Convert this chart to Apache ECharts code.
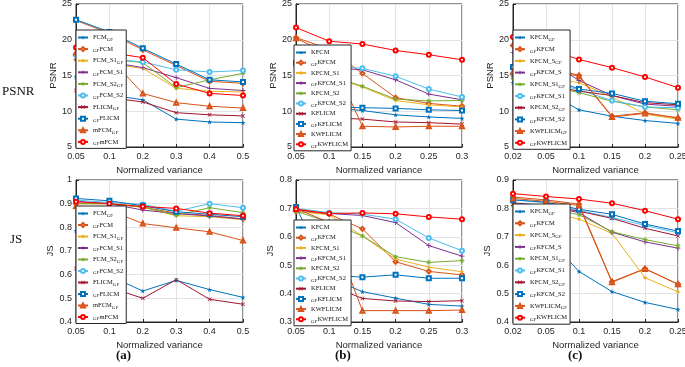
<!DOCTYPE html>
<html lang="en">
<head>
<meta charset="UTF-8">
<title>PSNR / JS vs normalized variance</title>
<script src="https://cdn.jsdelivr.net/npm/echarts@6/dist/echarts.min.js"></script>
</head>
<body style="margin:0; background:#fff">
<div id="main" style="width:685px; height:367px"></div>
<script>
// x categories
var xA = ['0.05', '0.1', '0.2', '0.3', '0.4', '0.5'];
var xB = ['0.05', '0.1', '0.15', '0.2', '0.25', '0.3'];
var xC = ['0.02', '0.05', '0.1', '0.15', '0.2', '0.25'];

// series names (GF_ prefix = subscript before, _GF suffix = subscript after)
var namesA = ['FCM_GF', 'GF_FCM', 'FCM_S1_GF', 'GF_FCM_S1', 'FCM_S2_GF', 'GF_FCM_S2', 'FLICM_GF', 'GF_FLICM', 'mFCM_GF', 'GF_mFCM'];
var namesB = ['KFCM', 'GF_KFCM', 'KFCM_S1', 'GF_KFCM_S1', 'KFCM_S2', 'GF_KFCM_S2', 'KFLICM', 'GF_KFLICM', 'KWFLICM', 'GF_KWFLICM'];
var namesC = ['KFCM_GF', 'GF_KFCM', 'KFCM_S_GF', 'GF_KFCM_S', 'KFCM_S1_GF', 'GF_KFCM_S1', 'KFCM_S2_GF', 'GF_KFCM_S2', 'KWFLICM_GF', 'GF_KWFLICM'];

// PSNR values, one row per series
var psnrA = [
    [14.8, 12.3, 11.6, 8.9, 8.5, 8.4],
    [22.7, 20.9, 18.6, 16.4, 14.2, 13.9],
    [17.0, 16.6, 16.0, 13.2, 12.8, 12.7],
    [17.2, 16.9, 16.1, 14.7, 13.2, 12.9],
    [17.6, 17.3, 16.8, 13.3, 14.4, 15.3],
    [17.9, 17.3, 16.9, 15.8, 15.5, 15.7],
    [12.9, 11.9, 11.3, 9.8, 9.5, 9.35],
    [22.8, 21.1, 18.8, 16.6, 14.4, 14.1],
    [18.2, 17.5, 12.5, 11.2, 10.7, 10.45],
    [18.9, 18.2, 17.5, 13.8, 12.5, 12.2]
];
var psnrB = [
    [16.4, 10.5, 10.1, 9.5, 9.2, 9.0],
    [20.3, 18.7, 15.3, 11.9, 11.1, 10.7],
    [15.8, 14.9, 13.4, 11.5, 10.9, 10.6],
    [16.3, 16.1, 15.8, 14.4, 12.4, 11.6],
    [16.0, 15.0, 13.5, 11.7, 11.45, 11.5],
    [16.6, 16.3, 16.0, 14.9, 13.1, 12.0],
    [11.8, 9.1, 8.9, 8.5, 8.4, 8.2],
    [16.8, 10.6, 10.5, 10.4, 10.2, 10.1],
    [20.2, 18.0, 7.9, 7.8, 7.9, 7.9],
    [21.7, 19.8, 19.4, 18.5, 17.9, 17.2]
];
var psnrC = [
    [14.0, 12.8, 10.2, 9.3, 8.7, 8.3],
    [19.2, 16.3, 15.0, 9.3, 9.8, 9.0],
    [15.8, 14.7, 14.0, 12.0, 9.6, 8.9],
    [18.2, 17.3, 14.3, 12.2, 11.0, 10.7],
    [14.6, 13.7, 12.6, 11.4, 10.6, 10.2],
    [15.2, 14.2, 13.0, 11.5, 10.6, 10.5],
    [15.0, 13.7, 12.8, 12.2, 11.2, 10.9],
    [16.2, 14.85, 13.1, 12.5, 11.4, 11.05],
    [15.5, 15.9, 14.9, 9.2, 9.7, 9.1],
    [20.4, 18.7, 17.25, 16.1, 14.8, 13.3]
];

// JS values
var jsA = [
    [0.785, 0.595, 0.531, 0.576, 0.537, 0.504],
    [0.90, 0.90, 0.885, 0.86, 0.85, 0.836],
    [0.90, 0.90, 0.885, 0.849, 0.845, 0.832],
    [0.91, 0.90, 0.873, 0.858, 0.848, 0.835],
    [0.90, 0.90, 0.886, 0.851, 0.883, 0.862],
    [0.915, 0.905, 0.897, 0.868, 0.90, 0.883],
    [0.626, 0.547, 0.50, 0.579, 0.496, 0.475],
    [0.922, 0.912, 0.891, 0.866, 0.855, 0.845],
    [0.89, 0.872, 0.816, 0.798, 0.781, 0.744],
    [0.908, 0.90, 0.888, 0.88, 0.86, 0.849]
];
var jsB = [
    [0.62, 0.455, 0.407, 0.384, 0.362, 0.356],
    [0.69, 0.68, 0.628, 0.512, 0.478, 0.466],
    [0.69, 0.677, 0.603, 0.522, 0.493, 0.477],
    [0.695, 0.682, 0.675, 0.65, 0.569, 0.532],
    [0.69, 0.652, 0.603, 0.53, 0.51, 0.516],
    [0.70, 0.685, 0.68, 0.662, 0.596, 0.551],
    [0.53, 0.43, 0.383, 0.374, 0.372, 0.375],
    [0.705, 0.465, 0.458, 0.466, 0.454, 0.454],
    [0.70, 0.65, 0.34, 0.34, 0.34, 0.342],
    [0.697, 0.682, 0.684, 0.681, 0.67, 0.662]
];
var jsC = [
    [0.83, 0.70, 0.578, 0.507, 0.469, 0.444],
    [0.84, 0.83, 0.815, 0.542, 0.588, 0.533],
    [0.81, 0.79, 0.762, 0.712, 0.556, 0.506],
    [0.82, 0.81, 0.785, 0.716, 0.682, 0.66],
    [0.81, 0.80, 0.778, 0.718, 0.69, 0.668],
    [0.83, 0.82, 0.793, 0.768, 0.74, 0.714],
    [0.815, 0.81, 0.79, 0.765, 0.73, 0.703],
    [0.83, 0.822, 0.797, 0.779, 0.745, 0.72],
    [0.835, 0.825, 0.81, 0.54, 0.587, 0.533],
    [0.852, 0.842, 0.833, 0.818, 0.792, 0.762]
];

var chart = echarts.init(document.getElementById('main'));

// matlab-ish line colours and markers
var colors = ['#0072BD', '#D95319', '#EDB120', '#7E2F8E', '#77AC30', '#4DBEEE', '#A2142F', '#0072BD', '#D95319', '#FF0000'];
var STAR = 'path://M0,-10L2.35,-3.24L9.51,-3.09L3.8,1.24L5.88,8.09L0,4L-5.88,8.09L-3.8,1.24L-9.51,-3.09L-2.35,-3.24Z';
var PLUS = 'path://M-1.8,-10H1.8V-1.8H10V1.8H1.8V10H-1.8V1.8H-10V-1.8H-1.8Z';
var CROSS = 'path://M-10,-7.5L-7.5,-10L0,-2.5L7.5,-10L10,-7.5L2.5,0L10,7.5L7.5,10L0,2.5L-7.5,10L-10,7.5L-2.5,0Z';
var AST = 'path://M-1.5,-10H1.5V-1.5H10V1.5H1.5V10H-1.5V1.5H-10V-1.5H-1.5Z M-8,-6L-6,-8L0,-2L6,-8L8,-6L2,0L8,6L6,8L0,2L-6,8L-8,6L-2,0Z';
var symbols = [STAR, 'emptyDiamond', 'diamond', PLUS, AST, 'emptyCircle', CROSS, 'emptyRect', 'emptyTriangle', 'emptyCircle'];
var sizes = [5, 4, 4, 5, 5, 4, 4, 4, 4, 4];

var panels = [
    { key: 'a', x: xA, names: namesA, psnr: psnrA, js: jsA, left: 76, width: 167, jsMin: 0.4, jsMax: 1,
      legLeft: 76, legTop: [30, 206], legGap: [2.6, 2.5] },
    { key: 'b', x: xB, names: namesB, psnr: psnrB, js: jsB, left: 296, width: 166, jsMin: 0.3, jsMax: 0.8,
      legLeft: 294, legTop: [45, 220], legGap: [1.2, 1.2] },
    { key: 'c', x: xC, names: namesC, psnr: psnrC, js: jsC, left: 513, width: 165, jsMin: 0.4, jsMax: 0.9,
      legLeft: 513, legTop: [30, 204], legGap: [2.7, 2.8] }
];

var rowTop = [4, 180];
var rowHeight = [143, 142];

function legendLabel(name) {
    var n = name.slice(2);
    if (n.indexOf('GF_') === 0) return '{sub|GF}' + n.slice(3);
    if (n.slice(-3) === '_GF') return n.slice(0, -3) + '{sub|GF}';
    return n;
}

var grids = [], xAxes = [], yAxes = [], series = [], legends = [];
var axisColor = '#262626';
var tickFont = { color: axisColor, fontSize: 9, fontFamily: 'Liberation Sans' };

for (var row = 0; row < 2; row++) {
    panels.forEach(function (p, pi) {
        var gi = grids.length;
        grids.push({
            left: p.left, width: p.width, top: rowTop[row], height: rowHeight[row],
            show: true, borderColor: axisColor, borderWidth: 1, backgroundColor: '#fff',
            outerBoundsMode: 'none'
        });
        xAxes.push({
            gridIndex: gi, type: 'category', data: p.x, boundaryGap: false,
            name: 'Normalized variance', nameLocation: 'middle', nameGap: 18,
            nameTextStyle: { color: axisColor, fontSize: 9.5, fontFamily: 'Liberation Sans' },
            axisLine: { lineStyle: { color: axisColor } },
            axisTick: { inside: true, length: 3, lineStyle: { color: axisColor } },
            axisLabel: Object.assign({ margin: 5 }, tickFont),
            splitLine: { show: true, lineStyle: { color: '#e3e3e3' } }
        });
        var isPsnr = row === 0;
        yAxes.push({
            gridIndex: gi, type: 'value',
            min: isPsnr ? 5 : p.jsMin, max: isPsnr ? 25 : p.jsMax, interval: isPsnr ? 5 : 0.1,
            name: isPsnr ? 'PSNR' : 'JS', nameLocation: 'middle', nameGap: 15,
            nameTextStyle: { color: axisColor, fontSize: 9.5, fontFamily: 'Liberation Sans' },
            axisLine: { show: true, lineStyle: { color: axisColor } },
            axisTick: { show: true, inside: true, length: 3, lineStyle: { color: axisColor } },
            axisLabel: Object.assign({ margin: 4 }, tickFont),
            splitLine: { show: true, lineStyle: { color: '#e3e3e3' } }
        });
        var vals = isPsnr ? p.psnr : p.js;
        var legendData = [];
        p.names.forEach(function (n, i) {
            var sname = p.key + ':' + n;
            legendData.push(sname);
            series.push({
                type: 'line', name: sname, xAxisIndex: gi, yAxisIndex: gi,
                data: vals[i],
                symbol: symbols[i], symbolSize: sizes[i],
                lineStyle: { width: 1, color: colors[i] },
                itemStyle: { color: colors[i], borderWidth: 1 },
                z: 2
            });
        });
        legends.push({
            data: legendData, orient: 'vertical',
            left: p.legLeft, top: p.legTop[row],
            itemWidth: 10, itemHeight: 5, itemGap: p.legGap[row],
            padding: [3, 3, 2, 1],
            backgroundColor: '#fff', borderColor: axisColor, borderWidth: 1,
            selectedMode: false,
            formatter: legendLabel,
            textStyle: {
                color: '#111', fontSize: 6.5, fontFamily: 'Liberation Serif', lineHeight: 9,
                rich: { sub: { fontSize: 5, fontFamily: 'Liberation Serif', color: '#111', padding: [4, 0, 0, 0] } }
            },
            z: 10
        });
    });
}

chart.setOption({
    animation: false,
    backgroundColor: '#fff',
    grid: grids,
    xAxis: xAxes,
    yAxis: yAxes,
    legend: legends,
    series: series,
    graphic: [
        { type: 'text', left: 2, top: 85, style: { text: 'PSNR', font: '13px "Liberation Serif"', fill: '#111' } },
        { type: 'text', left: 10, top: 233, style: { text: 'JS', font: '13px "Liberation Serif"', fill: '#111' } },
        { type: 'text', left: 116, top: 349, style: { text: '(a)', font: 'bold 13px "Liberation Serif"', fill: '#111' } },
        { type: 'text', left: 335, top: 349, style: { text: '(b)', font: 'bold 13px "Liberation Serif"', fill: '#111' } },
        { type: 'text', left: 568, top: 349, style: { text: '(c)', font: 'bold 13px "Liberation Serif"', fill: '#111' } }
    ]
});
</script>
</body>
</html>
